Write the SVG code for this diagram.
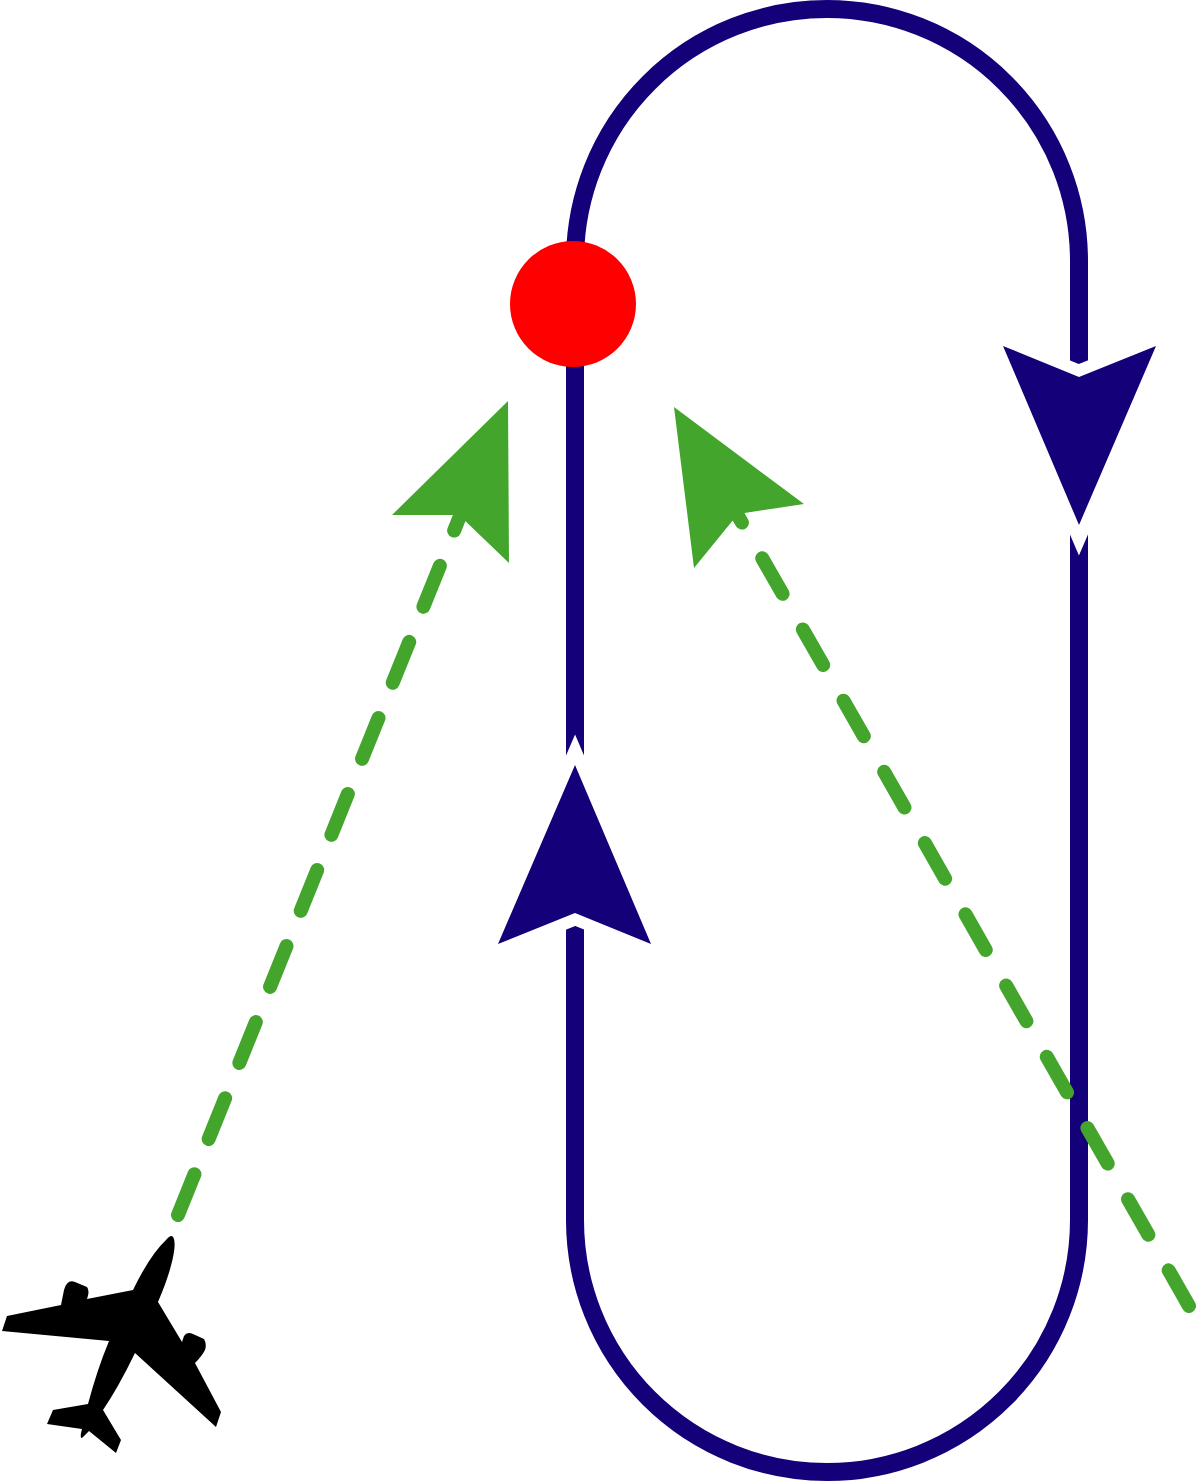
<svg xmlns="http://www.w3.org/2000/svg" width="1200" height="1483" viewBox="0 0 1200 1483">
<style>
.track{fill:none;stroke:#140078;stroke-width:18}
.head{fill:#140078;stroke:#fff;stroke-width:24;paint-order:stroke;stroke-linejoin:miter;stroke-miterlimit:10}
.dash{fill:none;stroke:#43A52B;stroke-width:14;stroke-linecap:round}
.ghead{fill:#43A52B}
</style>
<rect width="1200" height="1483" fill="#fff"/>
<g id="connectors">
<path class="track" d="M575,1220 V261 A252,252 0 0 1 1079,261 V1220 A252,252 0 0 1 575,1220 Z"/>
<polygon class="head" points="575,765 651,944 575,913 498,944"/>
<polygon class="head" points="1079,525 1003,346 1079,377 1156,346"/>
<path class="dash" d="M178,1215 L460,516" stroke-dasharray="44 38"/>
<polygon class="ghead" points="508,401 509,563 459,515 392,515"/>
<path class="dash" d="M1189,1306 L737,514" stroke-dasharray="41 41"/>
<polygon class="ghead" points="674,407 804,504 738,514 694,568"/>
</g>
<g id="fix">
<circle cx="573" cy="304" r="63" fill="#FF0000"/>
</g>
<g id="aircraft">
<path fill="#000" d="M173,1237 C177,1242 174,1265 158,1302 L182,1342 L184,1336 Q187,1331 193,1334 L204,1339 Q207,1344 205,1350 Q202,1356 195,1363 L221,1412 L216,1427 L135,1353 Q118,1388 103,1410 L121,1440 L116,1453 L89,1431 L83,1437 Q80,1440 81,1433 L82,1429 L47,1424 L53,1410 L88,1404 Q97,1370 109,1341 L2,1331 L7,1316 L61,1305 L64,1290 Q67,1279 75,1282 L87,1287 Q90,1291 87,1299 L133,1290 Q150,1255 166,1240 Q171,1234 173,1237 Z"/>
</g>
</svg>
